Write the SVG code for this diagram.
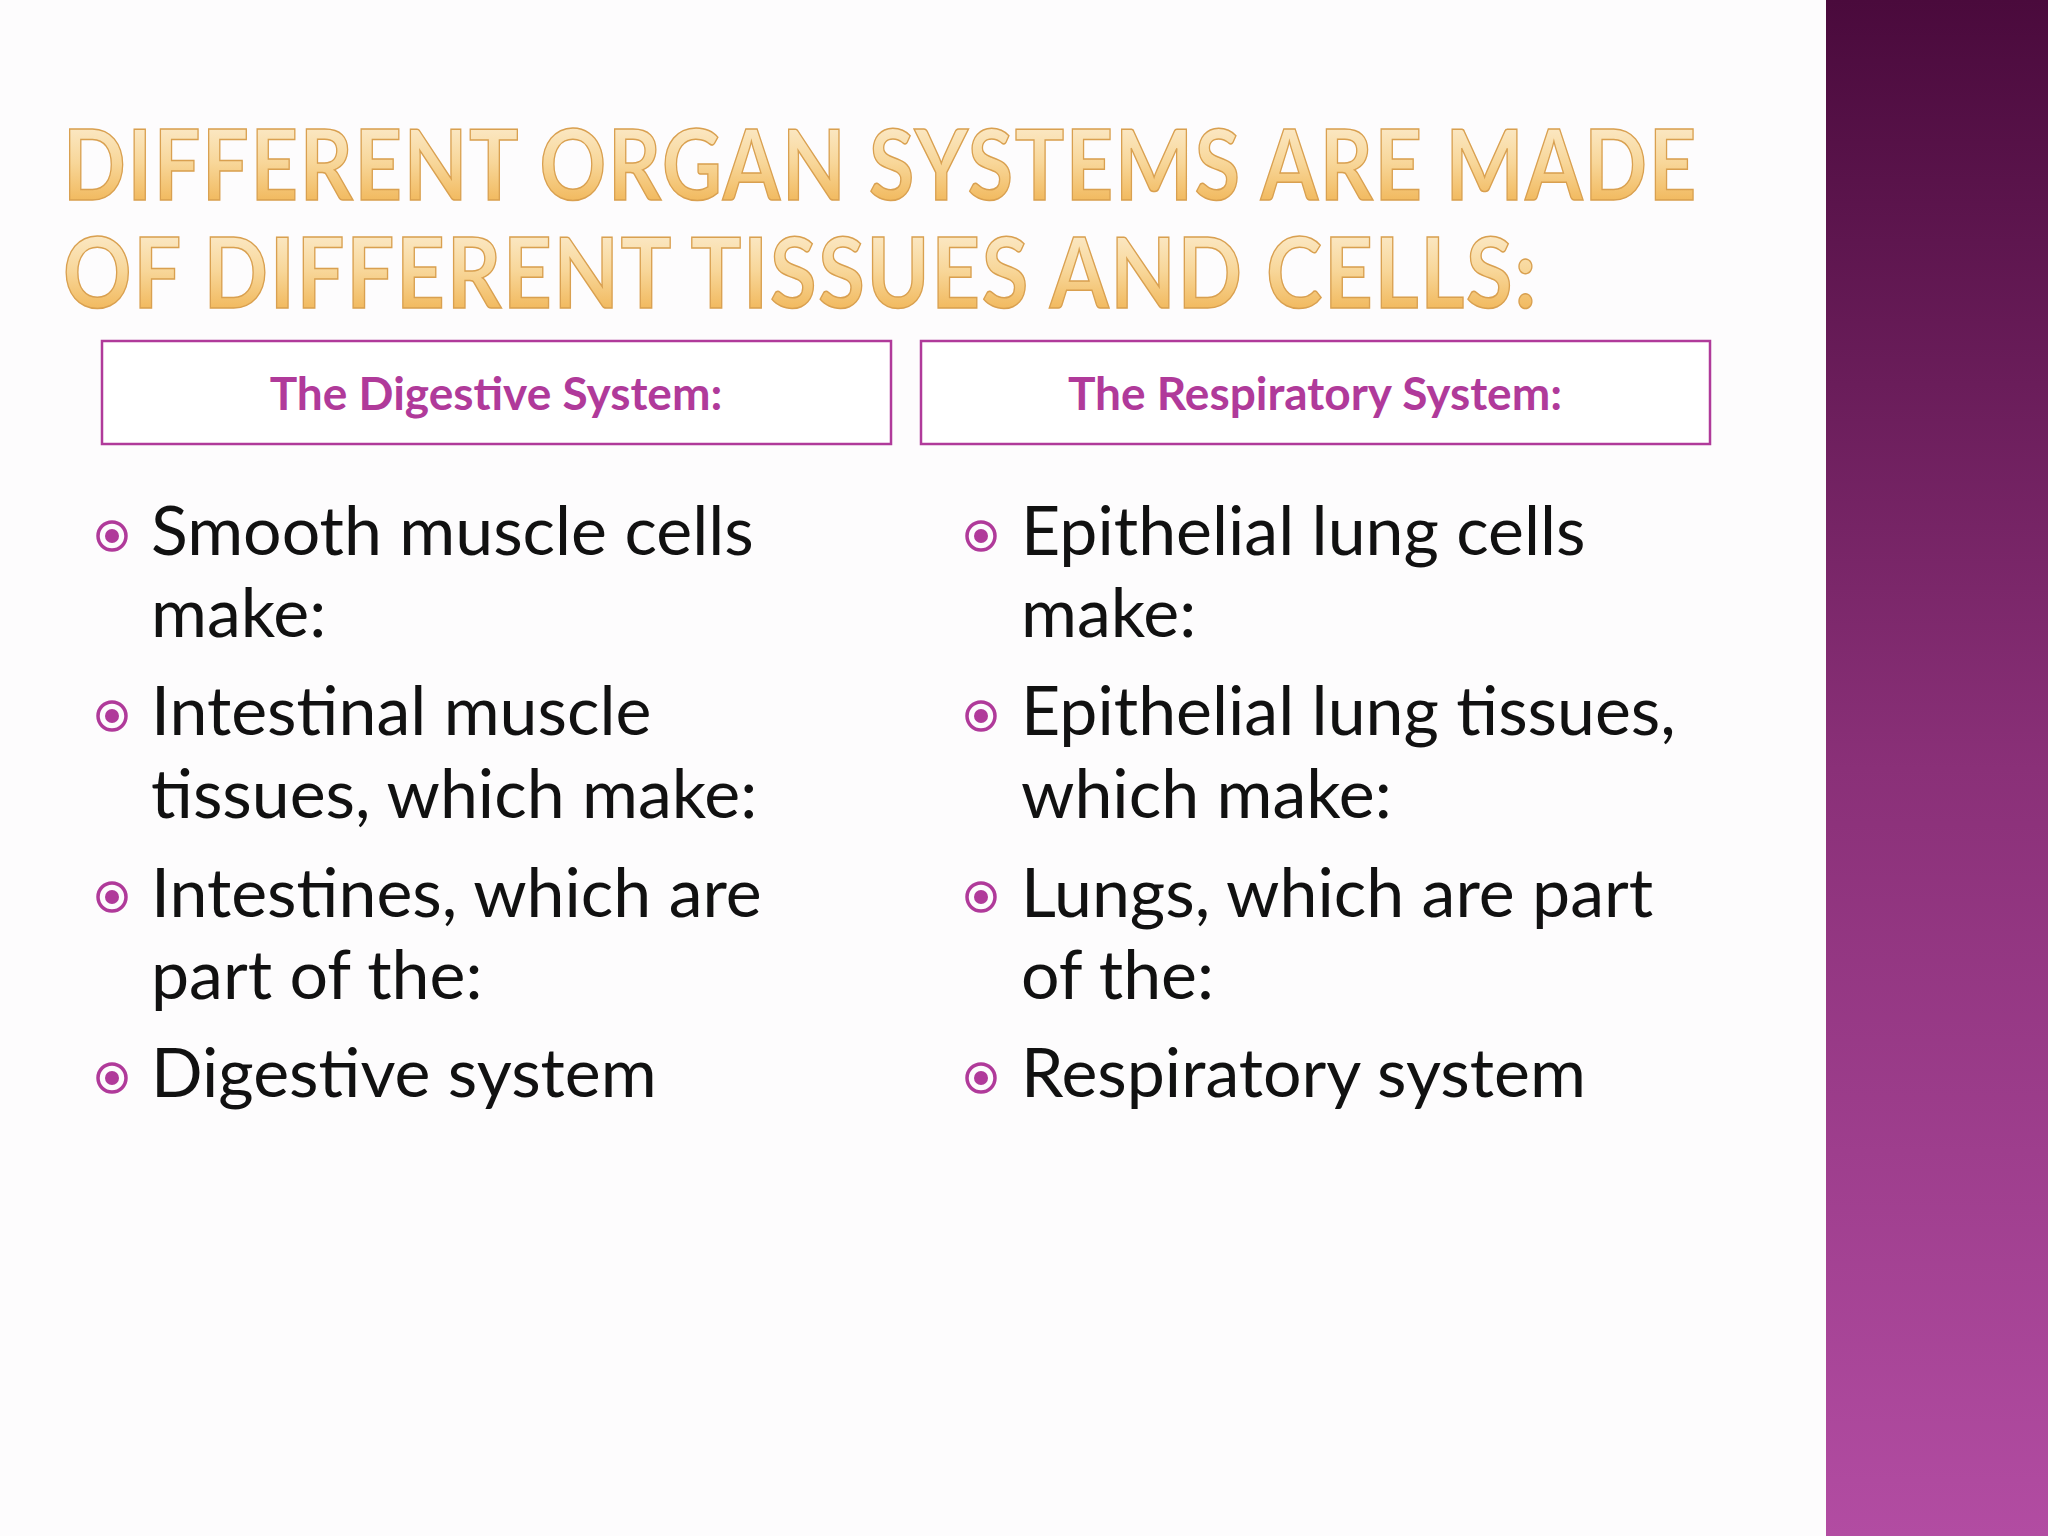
<svg xmlns="http://www.w3.org/2000/svg" width="2048" height="1536" viewBox="0 0 2048 1536">
<defs>
<linearGradient id="bar" x1="0" y1="0" x2="0" y2="1"><stop offset="0" stop-color="#4a0a3c"/><stop offset="0.5" stop-color="#8a3078"/><stop offset="1" stop-color="#b24ca2"/></linearGradient>
<linearGradient id="ttl" x1="0" y1="0" x2="0" y2="1"><stop offset="0" stop-color="#fdf3e0"/><stop offset="0.5" stop-color="#f8d79a"/><stop offset="1" stop-color="#eeaa40"/></linearGradient>
<style>
.t{font-family:Lato,"Open Sans",sans-serif;font-weight:bold;font-size:98px;fill:url(#ttl);stroke:#d9a050;stroke-width:1.5;letter-spacing:2px}
.h{font-family:Lato,"Open Sans",sans-serif;font-weight:bold;font-size:46px;fill:#b03a9a;text-anchor:middle}
.b{font-family:Lato,"Open Sans",sans-serif;font-size:68px;fill:#111}
.box{fill:#fff;stroke:#b03a9a;stroke-width:2.5}
.bo{fill:none;stroke:#b03a9a;stroke-width:3.5}
.bi{fill:#b03a9a}
</style>
<g id="bul"><circle r="14" class="bo"/><circle r="7" class="bi"/></g>
</defs>
<rect width="2048" height="1536" fill="#fdfcfd"/>
<rect x="1826" y="0" width="222" height="1536" fill="url(#bar)"/>
<g id="title">
<text class="t" x="63" y="200" textLength="1635" lengthAdjust="spacingAndGlyphs">DIFFERENT ORGAN SYSTEMS ARE MADE</text>
<text class="t" x="63" y="308" textLength="1475" lengthAdjust="spacingAndGlyphs">OF DIFFERENT TISSUES AND CELLS:</text>
</g>
<g id="h1"><rect class="box" x="102" y="341" width="789" height="103"/><text class="h" x="496" y="410">The Digestive System:</text></g>
<g id="h2"><rect class="box" x="921" y="341" width="789" height="103"/><text class="h" x="1315" y="410">The Respiratory System:</text></g>
<g id="left">
<use href="#bul" x="112" y="536"/><use href="#bul" x="112" y="716"/><use href="#bul" x="112" y="897"/><use href="#bul" x="112" y="1078"/>
<text class="b" x="151" y="555">Smooth muscle cells</text>
<text class="b" x="151" y="637">make:</text>
<text class="b" x="151" y="735">Intestinal muscle</text>
<text class="b" x="151" y="818">tissues, which make:</text>
<text class="b" x="151" y="917">Intestines, which are</text>
<text class="b" x="151" y="999">part of the:</text>
<text class="b" x="151" y="1097">Digestive system</text>
</g>
<g id="right">
<use href="#bul" x="981" y="536"/><use href="#bul" x="981" y="716"/><use href="#bul" x="981" y="897"/><use href="#bul" x="981" y="1078"/>
<text class="b" x="1021" y="555">Epithelial lung cells</text>
<text class="b" x="1021" y="637">make:</text>
<text class="b" x="1021" y="735">Epithelial lung tissues,</text>
<text class="b" x="1021" y="818">which make:</text>
<text class="b" x="1021" y="917">Lungs, which are part</text>
<text class="b" x="1021" y="999">of the:</text>
<text class="b" x="1021" y="1097">Respiratory system</text>
</g>
</svg>
